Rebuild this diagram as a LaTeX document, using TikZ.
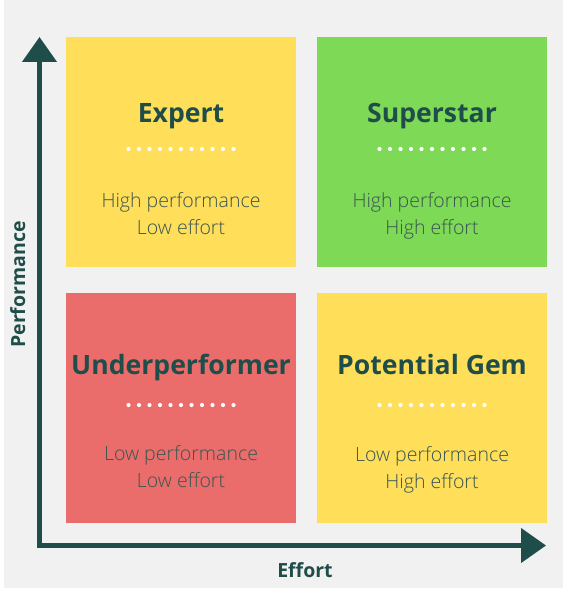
\documentclass[tikz,border=0pt]{standalone}
\usepackage{fontspec}
\setmainfont{Open Sans}
\IfFontExistsTF{Open Sans Light}{\newfontfamily\bodyfont{Open Sans Light}}{\newfontfamily\bodyfont{Open Sans}}
\usetikzlibrary{arrows.meta}
\definecolor{bgc}{HTML}{F1F1F1}
\definecolor{teal}{HTML}{1F4D4A}
\definecolor{bodyc}{HTML}{3A5550}
\definecolor{qyellow}{HTML}{FFDE59}
\definecolor{qgreen}{HTML}{7ED957}
\definecolor{qred}{HTML}{EA6D6B}
\tikzset{
  quad/.style={draw=none, minimum width=230pt, minimum height=230pt, inner sep=0pt},
  title/.style={text=teal, font=\fontsize{26.6}{30}\selectfont\bfseries, inner sep=0pt, anchor=base},
  body/.style={text=bodyc, font=\bodyfont\fontsize{19.5}{24}\selectfont, inner sep=0pt, anchor=base},
  axislabel/.style={text=teal, font=\fontsize{19.5}{24}\selectfont\bfseries, inner sep=0pt, anchor=base},
  axisline/.style={draw=teal, line width=4.5pt, line join=miter,
     {Triangle[length=25pt,width=34pt]}-{Triangle[length=25pt,width=34pt]}},
  dot/.style={fill=white}
}
\begin{document}
\begin{tikzpicture}[x=1pt,y=-1pt]
\useasboundingbox (0,0) rectangle (571,591);
\fill[white] (0,0) rectangle (571,591);
\fill[bgc] (4,0) rectangle (563,588);

% quadrants
\node[quad, fill=qyellow] (qexpert) at (181,152) {};
\node[quad, fill=qgreen] (qsuper) at (432,152) {};
\node[quad, fill=qred] (qunder) at (181,408) {};
\node[quad, fill=qyellow] (qgem) at (432,408) {};

% titles
\node[title] (texpert) at (181,123) {Expert};
\node[title] (tsuper) at (432,123) {Superstar};
\node[title] (tunder) at (181,374) {Underperformer};
\node[title] (tgem) at (432,374) {Potential Gem};

% dots
\foreach \cx/\cy in {181/149, 432/149, 181/405, 432/405}{
  \foreach \i in {0,...,10}{
    \fill[dot] (\cx-52.5+\i*10.5, \cy) circle (2.1pt);
  }
}

% body text
\node[body] (bexpert1) at (181,207) {High performance};
\node[body] (bexpert2) at (181,234) {Low effort};
\node[body] (bsuper1) at (432,207) {High performance};
\node[body] (bsuper2) at (432,234) {High effort};
\node[body] (bunder1) at (181,460) {Low performance};
\node[body] (bunder2) at (181,487) {Low effort};
\node[body] (bgem1) at (432,461) {Low performance};
\node[body] (bgem2) at (432,488) {High effort};

% axes
\coordinate (ytip) at (39.5,37);
\coordinate (origin) at (39.5,545.5);
\coordinate (xtip) at (546,545.5);
\draw[axisline] (ytip) -- (origin) -- (xtip);

\node[axislabel] (xlabel) at (305,577) {Effort};
\node[axislabel, rotate=90] (ylabel) at (25,284.5) {Performance};
\end{tikzpicture}
\end{document}
